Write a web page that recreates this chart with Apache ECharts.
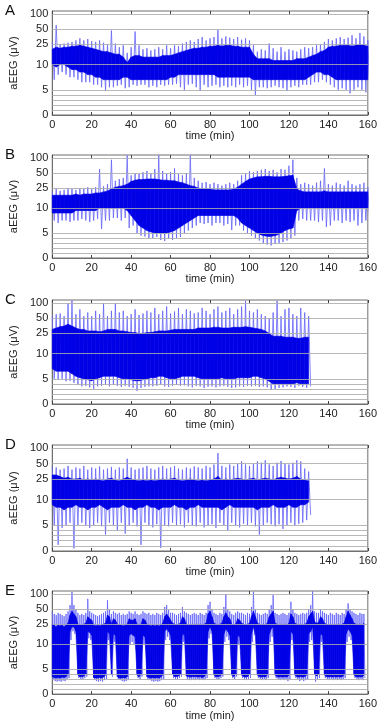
<!DOCTYPE html>
<html><head><meta charset="utf-8">
<script src="https://cdn.jsdelivr.net/npm/echarts@6/dist/echarts.min.js"></script>
<style>html,body{margin:0;padding:0;background:#fff}#c{width:380px;height:722px}</style>
</head><body><div id="c"></div>
<script>
// ---------- axis ticks ----------
const xMin = 0, xMax = 160, xInterval = 20;
const yTickValues = [0, 5, 10, 25, 50, 100];
const gridValues = [1, 2, 3, 4, 5, 10, 25, 50, 100];
const panelLabels = ['A', 'B', 'C', 'D', 'E'];

// ---------- Panel A (every 2 min, 0..160) ----------
const aCoreHi = [20,22,21,22,22,23,23,24,23,22, 21,20,19,18,18,17,16,16,14,11, 14,15,15,14,14,14,14,14,15,15, 15,16,17,18,19,20,21,21,22,22, 23,23,24,23,24,24,23,23,22,22, 22,16,13,13,13,13,12,12,12,12, 12,12,13,13,13,14,15,16,18,19, 22,23,23,24,24,24,23,24,25,24, 23];
const aCoreLo = [10,9.5,10,10,9.5,9,9,8.5,8.5,8, 8,7.5,7.5,7,7,7,7,7,7.5,7.5, 7,7,7,7,7,7,7,7,7,7, 7.5,7.5,8,8,8,8,8,8,8,8, 8,8,7.5,7.5,7.5,7.5,7.5,7.5,7.5,7.5, 7.5,7,7,7,7,7,7,7,7,7, 7,7,7,7,7,7.5,8,8.5,8.5,8, 8,7.5,7,7,7,7,7,7,7,7, 7];
const aMax = [28,60,25,26,27,28,30,33,30,32, 29,28,30,27,25,47,26,22,24,17, 22,45,24,20,21,19,20,22,20,24, 21,24,23,26,28,30,28,32,35,30, 33,35,48,33,36,34,32,35,31,33, 30,24,18,20,19,26,21,18,22,18, 20,19,18,20,22,21,22,24,25,28, 32,30,33,35,32,34,38,33,42,36, 30];
const aMin = [7,8,8.5,8,7.5,7.5,7,6.5,6.5,6.5, 6,6,5.5,4.8,5.5,5.5,5.8,6,5.3,5.5, 6,5.8,6,6,5.5,5.8,5.5,6,5.8,6, 6,6.2,5.5,5,6,6.2,5.5,4.8,6,5.5, 5.8,6,5.5,5.8,5.5,5.8,5.5,6,5.5,5.8, 5,4,5.5,5.5,5.3,5.5,5.8,5.5,5.3,4.8, 5.5,5.8,5.5,6,6,6,6.5,6.5,7,6.5, 6,5.5,5,5.3,5,4.3,5,5.5,5,4.5, 5];

// ---------- Panel B (every 2 min, 0..160) ----------
const bCoreHi = [18,18,18,18,18,18,19,18,19,19, 19,20,20,21,22,24,26,27,28,30, 34,36,37,37,38,38,38,37,36,36, 35,35,33,32,30,28,27,25,24,24, 24,23,23,23,23,23,24,26,30,34, 38,40,42,42,43,43,42,42,42,43, 44,45,24,22,21,21,21,21,21,22, 21,21,21,21,21,21,21,21,21,21, 21];
const bCoreLo = [9,9,9,9,9,9,9.5,9.5,9.5,9.5, 9.5,9.5,10,10,10,10,10,10,10,9.5, 8.5,7.5,6.5,6,5.5,5.2,5,5,5,5, 5.2,5.5,6,6.5,7,7.5,8,8.5,8.5,8.5, 8.5,8.5,8.5,8.5,8.5,8.5,8.5,8,7,6.5, 6,5.5,5,4.6,4.4,4.3,4.4,4.6,5,5.5, 5.8,6,9.5,10,10,10,10,10,10,10, 10,10,10,10,10,10,10,10,10,10, 10];
const bMax = [22,24,22,23,25,24,23,25,24,26, 24,26,60,27,30,92,35,38,40,112, 45,50,48,52,55,50,60,112,55,50, 52,62,48,45,50,112,40,35,32,33, 30,32,30,28,30,32,30,35,45,50, 55,52,55,58,60,55,58,52,60,58, 70,92,40,30,32,30,28,32,35,62, 30,28,32,30,28,35,30,28,30,32, 26];
const bMin = [7.5,7,7.5,7.5,7.2,7.5,7.5,7.8,7.5,7.2, 7.5,7.8,5.8,7.5,7.5,8,8,7.5,8,6, 6.5,5,4.5,4.3,4,4,4.2,3.6,3.4,3.8, 3.6,4,4.2,5,5.5,6,6.5,7,6.8,7, 6.5,7,7,6.5,6.8,5.6,6.5,6.5,5.5,5, 4.5,4,3.5,3,2.7,2.5,2.8,3,3.2,3.5, 4,4.5,7.5,7.8,7.5,7.5,7.5,7.2,7.5,6.2, 6.5,7.5,7.5,7,7.5,7.2,7.5,6.5,7,7.5, 7.5];

// ---------- Panel C (every 2 min, 0..130) ----------
const cCoreHi = [30,32,34,35,38,35,32,30,30,28, 28,28,27,28,30,30,30,28,28,27, 26,26,25,25,26,26,27,28,28,28, 29,30,30,30,30,30,30,32,32,32, 32,33,33,32,32,32,33,33,33,34, 33,32,31,30,28,25,22,22,22,21, 21,21,20,20,21,21];
const cCoreLo = [7,6.5,6.5,6.5,6.5,6,5.5,5.2,5,4.8, 4.6,5,5.2,5.5,5.5,5.5,5.5,5.2,5,5, 4.8,4.6,4.6,4.8,5,5.2,5.2,5.5,5.5,5.2, 5,5,5.2,5.5,5.5,5.5,5.5,5.2,5,5, 5,5,5,5.2,5,5,5,5.2,5.2,5.2, 5.2,5.5,5.5,5.2,5,4.5,4,4,4,4, 4,4,4.2,4,4,4];
const cMax = [55,60,62,55,100,112,60,75,55,65, 55,70,60,100,55,70,100,65,70,55, 60,75,58,62,70,65,80,60,70,85, 62,68,80,60,75,70,62,65,80,70, 60,75,85,65,70,80,60,75,85,110, 70,65,75,60,55,50,65,110,55,75, 80,60,55,80,65,55];
const cMin = [5,4.8,5,4.5,4.6,4.2,3.8,3.5,3.6,3.3, 3,3.5,3.6,3.8,3.5,3.8,3.6,3.4,3.6,3.4, 3.2,2.6,3.2,3.4,3.5,3.5,3.6,3.8,3.5,3.4, 3.6,3.8,3.6,3.7,3.5,3.3,3.6,3.5,3.2,3.4, 3.5,3.3,3.5,3.6,3.4,3.2,3.3,3.5,3.4,3.6, 3.5,3.6,3.4,3.5,3.3,2.9,3,3.2,3.3,3.5, 3.4,3.2,3.6,3.4,3.2,3.5];

// ---------- Panel D (every 2 min, 0..130) ----------
const dCoreHi = [30,30,28,26,27,25,25,26,24,25, 24,25,24,23,25,26,24,23,25,27, 25,24,23,24,23,24,23,24,25,24, 25,26,24,23,24,25,24,23,24,23, 24,25,28,24,25,24,25,26,25,24, 25,26,24,25,26,25,24,26,27,26, 25,26,28,25,24,23];
const dCoreLo = [9,8.5,8.5,8,8.5,8.5,9,8.5,8.5,8, 8.5,8.5,9,8.5,8,8.5,8.5,8.5,9,8.5, 8.5,8,8.5,8.5,9,8.5,8.5,8,8.5,8.5, 8.5,9,8.5,8.5,8,8.5,8.5,9,8.5,8.5, 8.5,8.5,8.5,8,8.5,9,8.5,8.5,8.5,8.5, 8.5,8.5,8,8.5,8.5,8.5,9,8.5,8.5,8.5, 9,8.5,8.5,9,9,9.5];
const dMax = [45,42,38,40,45,38,42,40,45,38, 42,40,44,38,40,43,38,42,40,62, 42,38,40,42,45,40,38,42,45,40, 42,45,40,38,42,40,44,42,40,45, 42,48,80,45,42,48,45,50,55,48, 45,50,55,52,58,48,45,52,56,50, 48,52,58,55,40,35];
const dMin = [5,1.2,4.5,5,5.5,0.5,5,5.5,5,4.5, 5,5.5,4.8,3.2,5.5,5,4,5.5,3.4,5, 5.5,4.8,1.2,5.5,5,4.6,5.2,0.6,5,4.8, 5.5,5,5.2,4.6,5.5,5,4.8,5.5,4.6,5, 5.2,4.5,5.5,5,4,5.5,5,4.6,5.3,5, 5.5,4.8,3.2,5,5.5,5.2,4.8,5.2,4.3,5, 5.5,5,5.3,5.5,6,7];

// ---------- Panel E (every 1 min, 0..158) ----------
const eCoreHi = [25,24,22,24,23,24,22,24,26, 38,45,40,35, 25,24,24,25,26, 35,32,30, 24,23,24,23,24,25,26, 38,35, 25, 32,30, 25,24,24,23,24,25, 32,30,30,32, 25,24,25, 32,30, 25,24,23,24,23,24,23,24,26, 35,40,35,30, 26,25,24,25,26, 35,32, 25,24,24,25,24,25,24,25,24,25,26, 40,45,35, 26,25,24,25,26, 35,42,35,32, 25,24,25, 32,30, 26,25,24,25,26, 35,45,35, 26,25,24,25,24,26, 35,40,45, 26,25,24,25,24,25,24,26, 40,35, 26,25,24,25,24,25,26, 35,40,45, 28,26,27, 35,32, 26,25,24,25,24,25,24,25,24,25,26, 35,45,38,32, 26,25,24,25,24,26];
const eCoreLo = [3.5,3.3,3.2,3.3,3.2,3.4,3.3,3.5,4, 18,22,22,18, 3.8,3.5,3.5,3.6,4, 18,17,15, 3.3,3.2,3.2,3.3,3.2,3.4,3.8, 18,16, 4, 16,15, 3.5,3.2,3.2,3.3,3.2,3.5, 15,16,15,14, 3.8,3.5,4, 15,14, 3.5,3.3,3.2,3.3,3.2,3.3,3.2,3.4,3.8, 18,20,18,15, 4,3.5,3.5,3.6,4, 16,15, 3.6,3.5,3.4,3.5,3.5,3.5,3.4,3.5,3.3,3.5,4, 18,22,18, 3.8,3.5,3.5,3.6,4, 16,20,18,15, 3.8,3.5,4, 15,14, 3.8,3.5,3.4,3.5,4, 16,22,16, 3.8,3.5,3.4,3.5,3.4,3.8, 16,20,22, 3.8,3.5,3.4,3.5,3.4,3.5,3.4,3.8, 18,16, 3.8,3.5,3.4,3.5,3.4,3.5,3.8, 16,18,22, 4,3.6,4, 16,15, 3.8,3.5,3.4,3.5,3.4,3.5,3.4,3.5,3.4,3.5,3.8, 16,20,18,15, 3.8,3.5,3.4,3.5,3.4,3.8];
const eMax = [45,40,38,42,40,38,36,40,45, 60,110,60,50, 42,38,40,38,42, 80,45,42, 40,38,36,38,40,42,45, 75,48, 40, 45,42, 40,42,38,40,38,40, 45,42,40,45, 40,38,40, 45,42, 40,42,38,40,38,42,40,38,42, 55,60,48,42, 42,40,38,40,42, 55,45, 42,40,38,40,42,40,38,42,40,38,42, 60,70,50, 42,40,38,42,40, 55,100,50,45, 40,38,42, 45,42, 42,40,38,42,40, 55,110,50, 42,40,38,40,42,40, 50,60,95, 42,40,38,40,42,40,38,42, 70,50, 42,40,38,40,42,40,42, 50,60,112, 45,42,42, 50,45, 42,40,38,42,40,38,42,40,38,42,40, 50,65,50,45, 42,40,38,42,40,40];
const eMin = [2.8,2.6,2.5,2.6,2.5,2.7,2.6,3,3.2, 12,18,16,12, 3.2,3,3,3.2,3.5, 13,12,10, 2.8,2.6,2.5,2.6,2.5,2.8,3, 12,11, 3.5, 11,10, 3,2.8,2.6,2.5,2.6,2.8, 10,11,10,9, 3.2,3,3.5, 10,9, 3,2.8,2.6,2.5,2.6,2.5,2.6,2.8,3, 12,14,12,10, 3.2,3,3,3.2,3.5, 11,10, 3,2.8,2.8,3,2.8,3,2.8,3,2.8,3,3.2, 13,16,12, 3.2,3,3,3.2,3.5, 11,14,12,10, 3.2,3,3.5, 10,9, 3.2,3,2.8,3,3.2, 11,15,11, 3.2,3,2.8,3,2.8,3.2, 11,14,16, 3.2,3,2.8,3,2.8,3,2.6,3, 12,11, 3.2,3,2.6,2.8,2.6,2.8,3, 11,12,16, 2.5,3,3.2, 11,10, 3.2,3,2.8,3,2.8,3,2.8,3,2.8,3,3.2, 11,14,12,10, 3.2,3,2.8,3,2.8,3.2];

// ---------- panel registry ----------
const panels = [
  {step: 2, hi: aCoreHi, lo: aCoreLo, mx: aMax, mn: aMin},
  {step: 2, hi: bCoreHi, lo: bCoreLo, mx: bMax, mn: bMin},
  {step: 2, hi: cCoreHi, lo: cCoreLo, mx: cMax, mn: cMin},
  {step: 2, hi: dCoreHi, lo: dCoreLo, mx: dMax, mn: dMin},
  {step: 1, hi: eCoreHi, lo: eCoreLo, mx: eMax, mn: eMin}
];

// semi-logarithmic aEEG scale: linear 0-10, log 10-100
const T = v => v <= 10 ? v / 10 : 1 + Math.log10(v / 10);
const invT = y => y <= 1 ? y * 10 : 10 * Math.pow(10, y - 1);

// ---------- layout ----------
const gridTops = [11, 155, 300, 445, 591];
const gridHeights = [104, 103, 104, 106, 105];
const FONT = '"Liberation Sans", Arial, sans-serif';
const frameColor = '#6f6f6f';
const textColor = '#222';
const coreColor = '#0000e6';
const spikeColor = '#6363f7';

function bandItem(params, api) {
  const p0 = api.coord([api.value(0), api.value(1)]);
  const p1 = api.coord([api.value(3), api.value(4)]);
  const p2 = api.coord([api.value(3), api.value(5)]);
  const p3 = api.coord([api.value(0), api.value(2)]);
  return {type: 'polygon', shape: {points: [p0, p1, p2, p3]},
    style: {fill: coreColor, stroke: coreColor, lineWidth: 0.6}};
}

const grid = [], xAxis = [], yAxis = [], series = [], graphic = [];
panels.forEach((p, i) => {
  grid.push({left: 39, right: 12, top: gridTops[i], height: gridHeights[i],
    show: true, borderColor: frameColor, borderWidth: 1, backgroundColor: '#fff'});
  xAxis.push({gridIndex: i, type: 'value', min: xMin, max: xMax, interval: xInterval,
    name: 'time (min)', nameLocation: 'middle', nameGap: 15,
    nameTextStyle: {fontSize: 11, color: textColor, fontFamily: FONT},
    axisLine: {show: true, lineStyle: {color: frameColor}},
    axisTick: {inside: true, length: 3, lineStyle: {color: '#444'}},
    axisLabel: {fontSize: 11, color: textColor, fontFamily: FONT, margin: 4},
    splitLine: {show: false}});
  xAxis.push({gridIndex: i, type: 'value', position: 'top', min: xMin, max: xMax, interval: xInterval,
    axisLine: {show: false}, axisTick: {inside: true, length: 3, lineStyle: {color: '#444'}},
    axisLabel: {show: false}, splitLine: {show: false}});
  yAxis.push({gridIndex: i, type: 'value', min: 0, max: 2.06,
    name: 'aEEG (μV)', nameLocation: 'middle', nameGap: 21, nameRotate: 90,
    nameTextStyle: {fontSize: 11, color: textColor, fontFamily: FONT},
    axisLine: {show: true, lineStyle: {color: frameColor}},
    axisTick: {show: false},
    axisLabel: {customValues: yTickValues.map(T), fontSize: 11, color: textColor, fontFamily: FONT, margin: 4,
      formatter: v => String(Math.round(invT(v)))},
    splitLine: {show: false}});

  // spikes: alternate max / min samples
  const zig = [];
  p.mx.forEach((v, k) => {
    const t = k * p.step;
    zig.push([t, T(v)]);
    zig.push([t + p.step / 2, T(p.mn[k])]);
  });
  series.push({type: 'line', xAxisIndex: 2 * i, yAxisIndex: i, data: zig, symbol: 'none',
    lineStyle: {width: 0.8, color: spikeColor}, z: 2, silent: true, animation: false});
  // dense core band, built segment by segment
  const band = [];
  for (let k = 0; k < p.hi.length - 1; k++) {
    band.push([k * p.step, T(p.lo[k]), T(p.hi[k]), (k + 1) * p.step, T(p.lo[k + 1]), T(p.hi[k + 1])]);
  }
  series.push({type: 'custom', xAxisIndex: 2 * i, yAxisIndex: i, data: band,
    encode: {x: [0, 3], y: [1, 2, 4, 5]}, renderItem: bandItem, z: 3, silent: true, animation: false});
  // grid lines
  series.push({type: 'line', xAxisIndex: 2 * i, yAxisIndex: i, data: [], z: 5, silent: true, animation: false,
    markLine: {silent: true, symbol: 'none', label: {show: false}, animation: false,
      lineStyle: {color: '#ababab', width: 1, type: 'solid', opacity: 0.85},
      data: gridValues.map(v => ({yAxis: T(v)}))}});

  graphic.push({type: 'text', left: 5, top: gridTops[i] - 8,
    style: {text: panelLabels[i], font: '15px ' + FONT, fill: '#111'}});
});

const chart = echarts.init(document.getElementById('c'), null, {renderer: 'canvas'});
chart.setOption({animation: false, grid, xAxis, yAxis, series, graphic});
</script>
</body></html>
